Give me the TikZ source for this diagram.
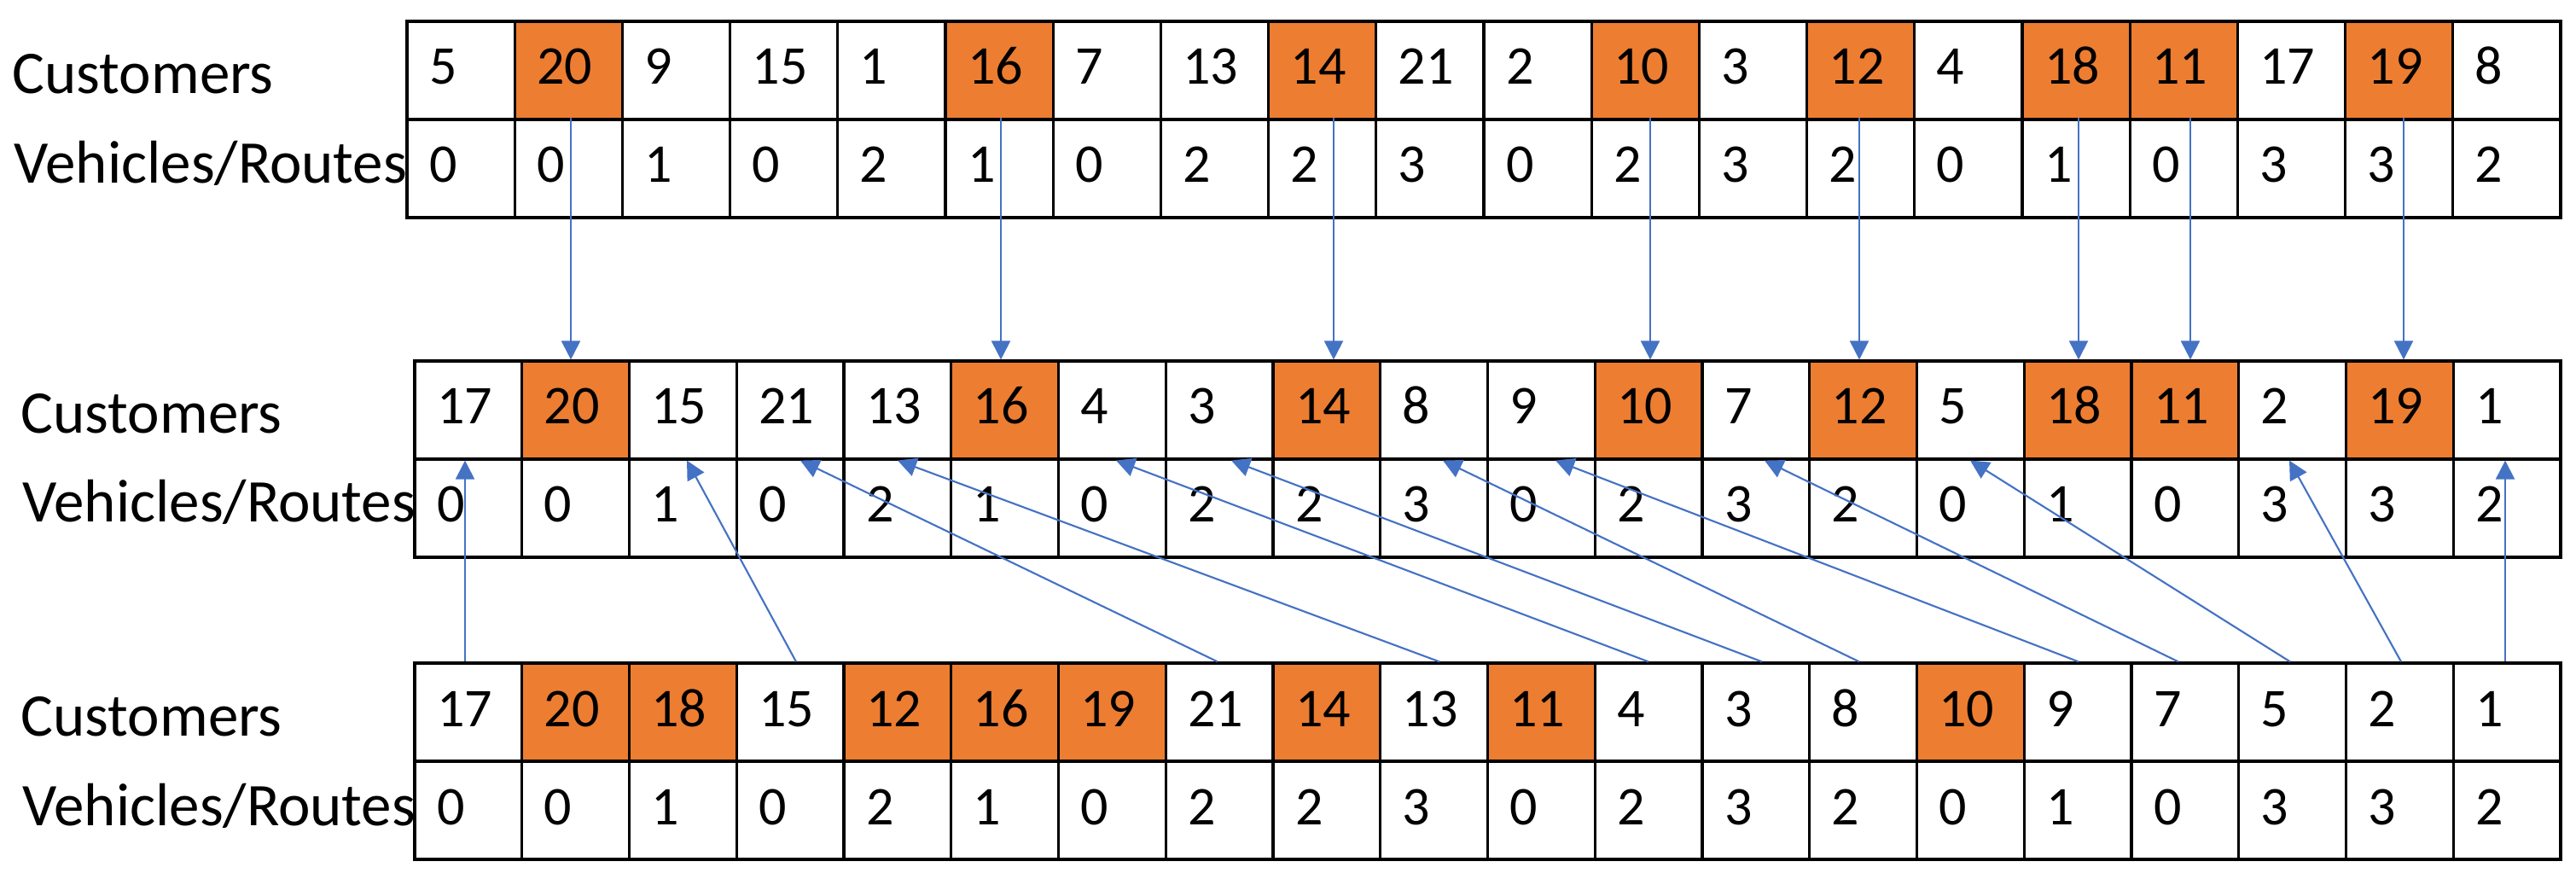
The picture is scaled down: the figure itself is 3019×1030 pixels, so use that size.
\documentclass[tikz,border=0pt]{standalone}
\usepackage{fontspec}
\setmainfont{Carlito}
\usetikzlibrary{arrows.meta,calc}
\definecolor{orng}{HTML}{ED7D31}
\definecolor{arrblue}{HTML}{4472C4}
\begin{document}
\begin{tikzpicture}[x=0.1mm,y=-0.1mm,
 cellbox/.style={draw=black, line width=0.9pt, rectangle, inner xsep=2.6mm, inner ysep=0pt,
   text height=7.4mm, text depth=4.1mm, align=left, font=\fontsize{18.2pt}{20pt}\selectfont},
 cellT/.style={cellbox, text width=7.42mm},
 cellM/.style={cellbox, text width=7.375mm},
 rowlab/.style={anchor=base west, inner sep=0pt, font=\fontsize{20.2pt}{22pt}\selectfont},
 arr/.style={draw=arrblue, line width=0.6pt, -{Triangle[length=2.2mm,width=2.2mm]}}
]
\useasboundingbox (0,0) rectangle (3019,1030);
\fill[white] (0,0) rectangle (3019,1030);

% top table
\foreach \cu/\ve/\fl [count=\k] in {5/0/white,20/0/orng,9/1/white,15/0/white,1/2/white,16/1/orng,7/0/white,13/2/white,14/2/orng,21/3/white,2/0/white,10/2/orng,3/3/white,12/2/orng,4/0/white,18/1/orng,11/0/orng,17/3/white,19/3/orng,8/2/white}{
  \node[cellT, fill=\fl] (Tc\k) at ({477+(\k-0.5)*126.2},82.5) {\cu};
  \node[cellT, fill=white] (Tv\k) at ({477+(\k-0.5)*126.2},197.5) {\ve};
}
\node[rowlab] (Tlc) at (14,110) {Customers};
\node[rowlab] (Tlv) at (16,215) {Vehicles/Routes};

% middle table
\foreach \cu/\ve/\fl [count=\k] in {17/0/white,20/0/orng,15/1/white,21/0/white,13/2/white,16/1/orng,4/0/white,3/2/white,14/2/orng,8/3/white,9/0/white,10/2/orng,7/3/white,12/2/orng,5/0/white,18/1/orng,11/0/orng,2/3/white,19/3/orng,1/2/white}{
  \node[cellM, fill=\fl] (Mc\k) at ({486+(\k-0.5)*125.75},480.5) {\cu};
  \node[cellM, fill=white] (Mv\k) at ({486+(\k-0.5)*125.75},595.5) {\ve};
}
\node[rowlab] (Mlc) at (24,508) {Customers};
\node[rowlab] (Mlv) at (26,612) {Vehicles/Routes};

% bottom table
\foreach \cu/\ve/\fl [count=\k] in {17/0/white,20/0/orng,18/1/orng,15/0/white,12/2/orng,16/1/orng,19/0/orng,21/2/white,14/2/orng,13/3/white,11/0/orng,4/2/white,3/3/white,8/2/white,10/0/orng,9/1/white,7/0/white,5/3/white,2/3/white,1/2/white}{
  \node[cellM, fill=\fl] (Bc\k) at ({486+(\k-0.5)*125.75},834.5) {\cu};
  \node[cellM, fill=white] (Bv\k) at ({486+(\k-0.5)*125.75},949.5) {\ve};
}
\node[rowlab] (Blc) at (24,862) {Customers};
\node[rowlab] (Blv) at (26,967) {Vehicles/Routes};

% arrows top -> middle
\foreach \k/\xx in {2/669,6/1173,9/1563,12/1934,14/2179,16/2436,17/2567,19/2817}
  \draw[arr] (Tv\k.north -| \xx,0) -- (Mc\k.north -| \xx,0);

% arrows bottom -> middle
\foreach \b/\sx/\m/\tx in {1/545/1/545,4/933/3/805,8/1427/4/938,10/1687/5/1052,12/1932/7/1308,13/2065/8/1443,14/2179/10/1691,16/2436/11/1823,17/2553/13/2068,18/2684/15/2309,19/2814/18/2683,20/2936/20/2936}
  \draw[arr] (Bc\b.north -| \sx,0) -- (Mc\m.south -| \tx,0);
\end{tikzpicture}
\end{document}
